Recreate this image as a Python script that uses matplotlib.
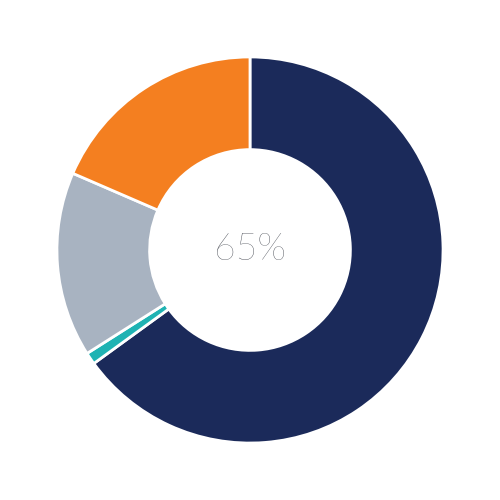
import matplotlib
matplotlib.use("Agg")
import matplotlib.pyplot as plt

labels = ["Navy", "Teal", "Gray", "Orange"]
values = [65, 1, 15.5, 18.5]
colors = ["#1b2a5a", "#1fb3b3", "#a8b3c1", "#f47f20"]
center_text = "65%"

fig = plt.figure(figsize=(5, 5), dpi=100)
ax = fig.add_axes([0, 0, 1, 1])
ax.pie(values, colors=colors, startangle=90, counterclock=False,
       radius=1, wedgeprops=dict(width=0.48, edgecolor="white", linewidth=2))
ax.text(0, 0, center_text, ha="center", va="center", fontsize=27,
        color="#3d414a", family="Lato", fontweight="light")
ax.set_xlim(-1.295, 1.295)
ax.set_ylim(-1.295, 1.295)
ax.set_aspect("equal")
ax.axis("off")
fig.savefig("out.png", dpi=100)
